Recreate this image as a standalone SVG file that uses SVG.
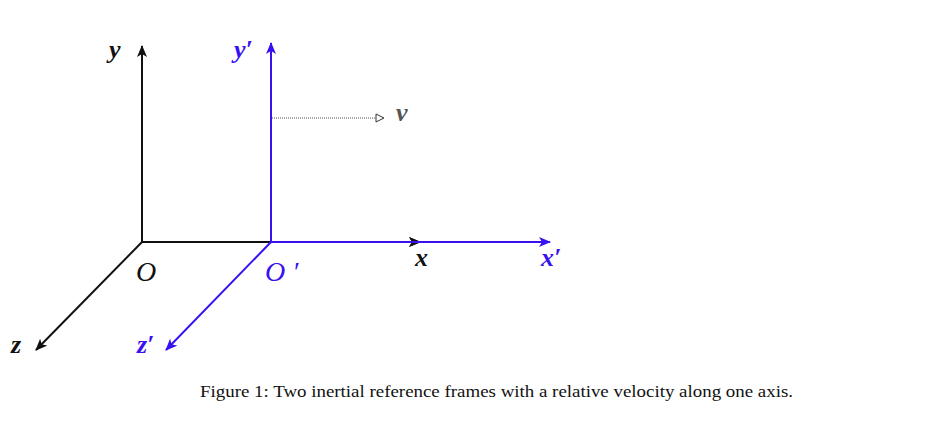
<svg xmlns="http://www.w3.org/2000/svg" width="926" height="448" viewBox="0 0 926 448">
<style>
.lbl{font-family:"Liberation Serif","DejaVu Serif",serif;font-style:italic;font-weight:bold;font-size:26px}
.org{font-family:"Liberation Serif","DejaVu Serif",serif;font-style:italic;font-size:28px}
.blk{stroke:#111;stroke-width:2;fill:none}
.blu{stroke:#3a10f0;stroke-width:2;fill:none}
.cap{font-family:"Liberation Serif","DejaVu Serif",serif;font-size:16px;fill:#111}
</style>
<defs>
<marker id="ab" viewBox="0 0 12 10" refX="11" refY="5" markerWidth="12" markerHeight="10" markerUnits="userSpaceOnUse" orient="auto">
<path d="M0,0 L12,5 L0,10 L3,5 z" fill="#111"/>
</marker>
<marker id="au" viewBox="0 0 12 10" refX="11" refY="5" markerWidth="12" markerHeight="10" markerUnits="userSpaceOnUse" orient="auto">
<path d="M0,0 L12,5 L0,10 L3,5 z" fill="#3a10f0"/>
</marker>
<marker id="av" viewBox="0 0 10 10" refX="9" refY="5" markerWidth="10" markerHeight="10" markerUnits="userSpaceOnUse" orient="auto">
<path d="M1,1 L9,5 L1,9 z" fill="#fff" stroke="#333" stroke-width="1"/>
</marker>
</defs>
<rect width="926" height="448" fill="#fff"/>
<g id="connectors">
<line class="blk" x1="142" y1="242" x2="142" y2="46" marker-end="url(#ab)"/>
<line class="blk" x1="142" y1="242" x2="420" y2="242" marker-end="url(#ab)"/>
<line class="blk" x1="142" y1="242" x2="36" y2="350" marker-end="url(#ab)"/>
<line class="blu" x1="271" y1="242" x2="550" y2="242"/>
<line class="blk" x1="408" y1="242" x2="420" y2="242" marker-end="url(#ab)"/>
<line class="blu" x1="271" y1="242" x2="271" y2="43" marker-end="url(#au)"/>
<line class="blu" x1="271" y1="242" x2="550" y2="242" marker-end="url(#au)"/>
<line class="blu" x1="271" y1="242" x2="166" y2="350" marker-end="url(#au)"/>
<line x1="272" y1="118" x2="384" y2="118" stroke="#555" stroke-width="1" stroke-dasharray="1,1" marker-end="url(#av)"/>
</g>
<g id="frameS">
<text class="lbl" x="109" y="58" fill="#111">y</text>
<text class="org" x="136" y="281" fill="#111">O</text>
<text class="lbl" x="415" y="266" fill="#111">x</text>
<text class="lbl" x="11" y="353" fill="#111">z</text>
</g>
<g id="frameSprime">
<text class="lbl" x="234" y="58" fill="#3a10f0">y′</text>
<text class="org" x="265" y="281" fill="#3a10f0">O ′</text>
<text class="lbl" x="541" y="266" fill="#3a10f0">x′</text>
<text class="lbl" x="137" y="353" fill="#3a10f0">z′</text>
</g>
<g id="velocity">
<text class="lbl" x="396" y="121" fill="#555">v</text>
</g>
<g id="caption">
<text class="cap" x="200" y="397" textLength="593" lengthAdjust="spacingAndGlyphs">Figure 1: Two inertial reference frames with a relative velocity along one axis.</text>
</g>
</svg>
